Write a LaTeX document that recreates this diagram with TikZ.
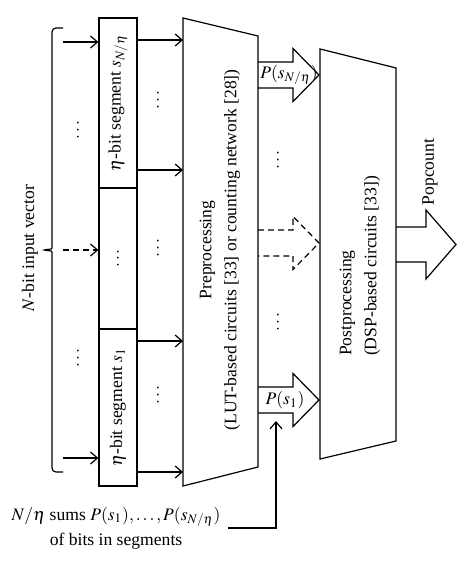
\documentclass[tikz,border=0pt]{standalone}
\usepackage{mathptmx}
\usepackage{fontspec}
\setmainfont{Liberation Serif}
\usetikzlibrary{arrows.meta,calc}

\begin{document}
\begin{tikzpicture}[
    x=0.5pt, y=-0.5pt,
    line width=0.6pt,
    font=\fontsize{8.8}{12.5}\selectfont,
    >={Straight Barb[length=3.5pt,width=6pt]},
    seg/.style={draw, minimum width=19pt, inner sep=0pt},
    vdots/.style={rotate=90, inner sep=0pt},
    lbl/.style={rotate=90, align=center, inner sep=0pt},
    arr/.style={->},
    darr/.style={->, dash pattern=on 3pt off 2pt},
    blk/.style={},
    dblk/.style={dash pattern=on 3pt off 2pt}
]
    \useasboundingbox (0,0) rectangle (474,566);

    % input vector and its brace
    \node[lbl] (vec) at (30,248) {$N$-bit input vector};
    \draw[rounded corners=2pt] (63,28) -- (52,28) -- (52,244)
        .. controls (52,249) .. (42,250) .. controls (52,251) .. (52,256)
        -- (52,472) -- (63,472);
    \coordinate (in-a) at (63,42);
    \coordinate (in-b) at (63,250);
    \coordinate (in-c) at (63,458);
    \node[vdots] (dots-a) at (78,130) {$\dots$};
    \node[vdots] (dots-b) at (78,358) {$\dots$};

    % segments
    \node[seg, minimum height=85pt] (segN) at (118,103) {};
    \node[seg, minimum height=70.5pt] (segM) at (118,258.5) {};
    \node[seg, minimum height=78.5pt] (seg1) at (118,407.5) {};
    \node[lbl] (segNtxt) at (segN) {$\eta$-bit segment $s_{N/\eta}$};
    \node[vdots] (segMtxt) at (segM) {$\dots$};
    \node[lbl] (seg1txt) at (seg1) {$\eta$-bit segment $s_1$};

    \draw[arr] (in-a) -- (in-a -| segN.west);
    \draw[darr] (in-b) -- (in-b -| segM.west);
    \draw[arr] (in-c) -- (in-c -| seg1.west);

    % preprocessing block
    \coordinate (pre-nw) at (183,18);
    \coordinate (pre-ne) at (258,36);
    \coordinate (pre-se) at (258,467);
    \coordinate (pre-sw) at (183,486);
    \draw (pre-nw) -- (pre-ne) -- (pre-se) -- (pre-sw) -- cycle;
    \node[lbl] (pretxt) at (220,250) {Preprocessing\\(LUT-based circuits [33] or counting network [28])};

    \coordinate (pin-a) at (183,40);
    \coordinate (pin-b) at (183,170);
    \coordinate (pin-c) at (183,341);
    \coordinate (pin-d) at (183,472);
    \draw[arr] (segN.east |- pin-a) -- (pin-a);
    \draw[arr] (segN.east |- pin-b) -- (pin-b);
    \draw[arr] (seg1.east |- pin-c) -- (pin-c);
    \draw[arr] (seg1.east |- pin-d) -- (pin-d);
    \node[vdots] (dots-c) at (158,100) {$\dots$};
    \node[vdots] (dots-d) at (158,248) {$\dots$};
    \node[vdots] (dots-e) at (158,395) {$\dots$};

    % sums passed on
    \foreach \yc/\sty in {75/blk, 243/dblk, 400/blk}
        \draw[\sty] (258,\yc-13) -- (293,\yc-13) -- (293,\yc-26.5)
            -- (319,\yc) -- (293,\yc+26.5) -- (293,\yc+13) -- (258,\yc+13);
    \node[inner sep=0pt] (sumN) at (289,75) {$P(s_{N/\eta})$};
    \node[inner sep=0pt] (sum1) at (285,400) {$P(s_1)$};
    \node[vdots] (dots-f) at (278,160) {$\dots$};
    \node[vdots] (dots-g) at (278,322) {$\dots$};

    % postprocessing block
    \coordinate (post-nw) at (320,49);
    \coordinate (post-ne) at (396,68);
    \coordinate (post-se) at (396,441);
    \coordinate (post-sw) at (320,459);
    \draw (post-nw) -- (post-ne) -- (post-se) -- (post-sw) -- cycle;
    \node[lbl, align=left] (posttxt) at (360,266) {Postprocessing\\(DSP-based circuits [33])};

    % result
    \draw (396,227) -- (426,227) -- (426,210) -- (456,244.5) -- (426,279) -- (426,262) -- (396,262);
    \node[lbl] (popc) at (430,172) {Popcount};

    % note on the sums
    \node[align=center] (note) at (116,528) {$N/\eta$ sums $P(s_1),\ldots,P(s_{N/\eta})$\\of bits in segments};
    \coordinate (sum1-tip) at (276,421);
    \draw[arr] (note.east) -| (sum1-tip);
\end{tikzpicture}
\end{document}
